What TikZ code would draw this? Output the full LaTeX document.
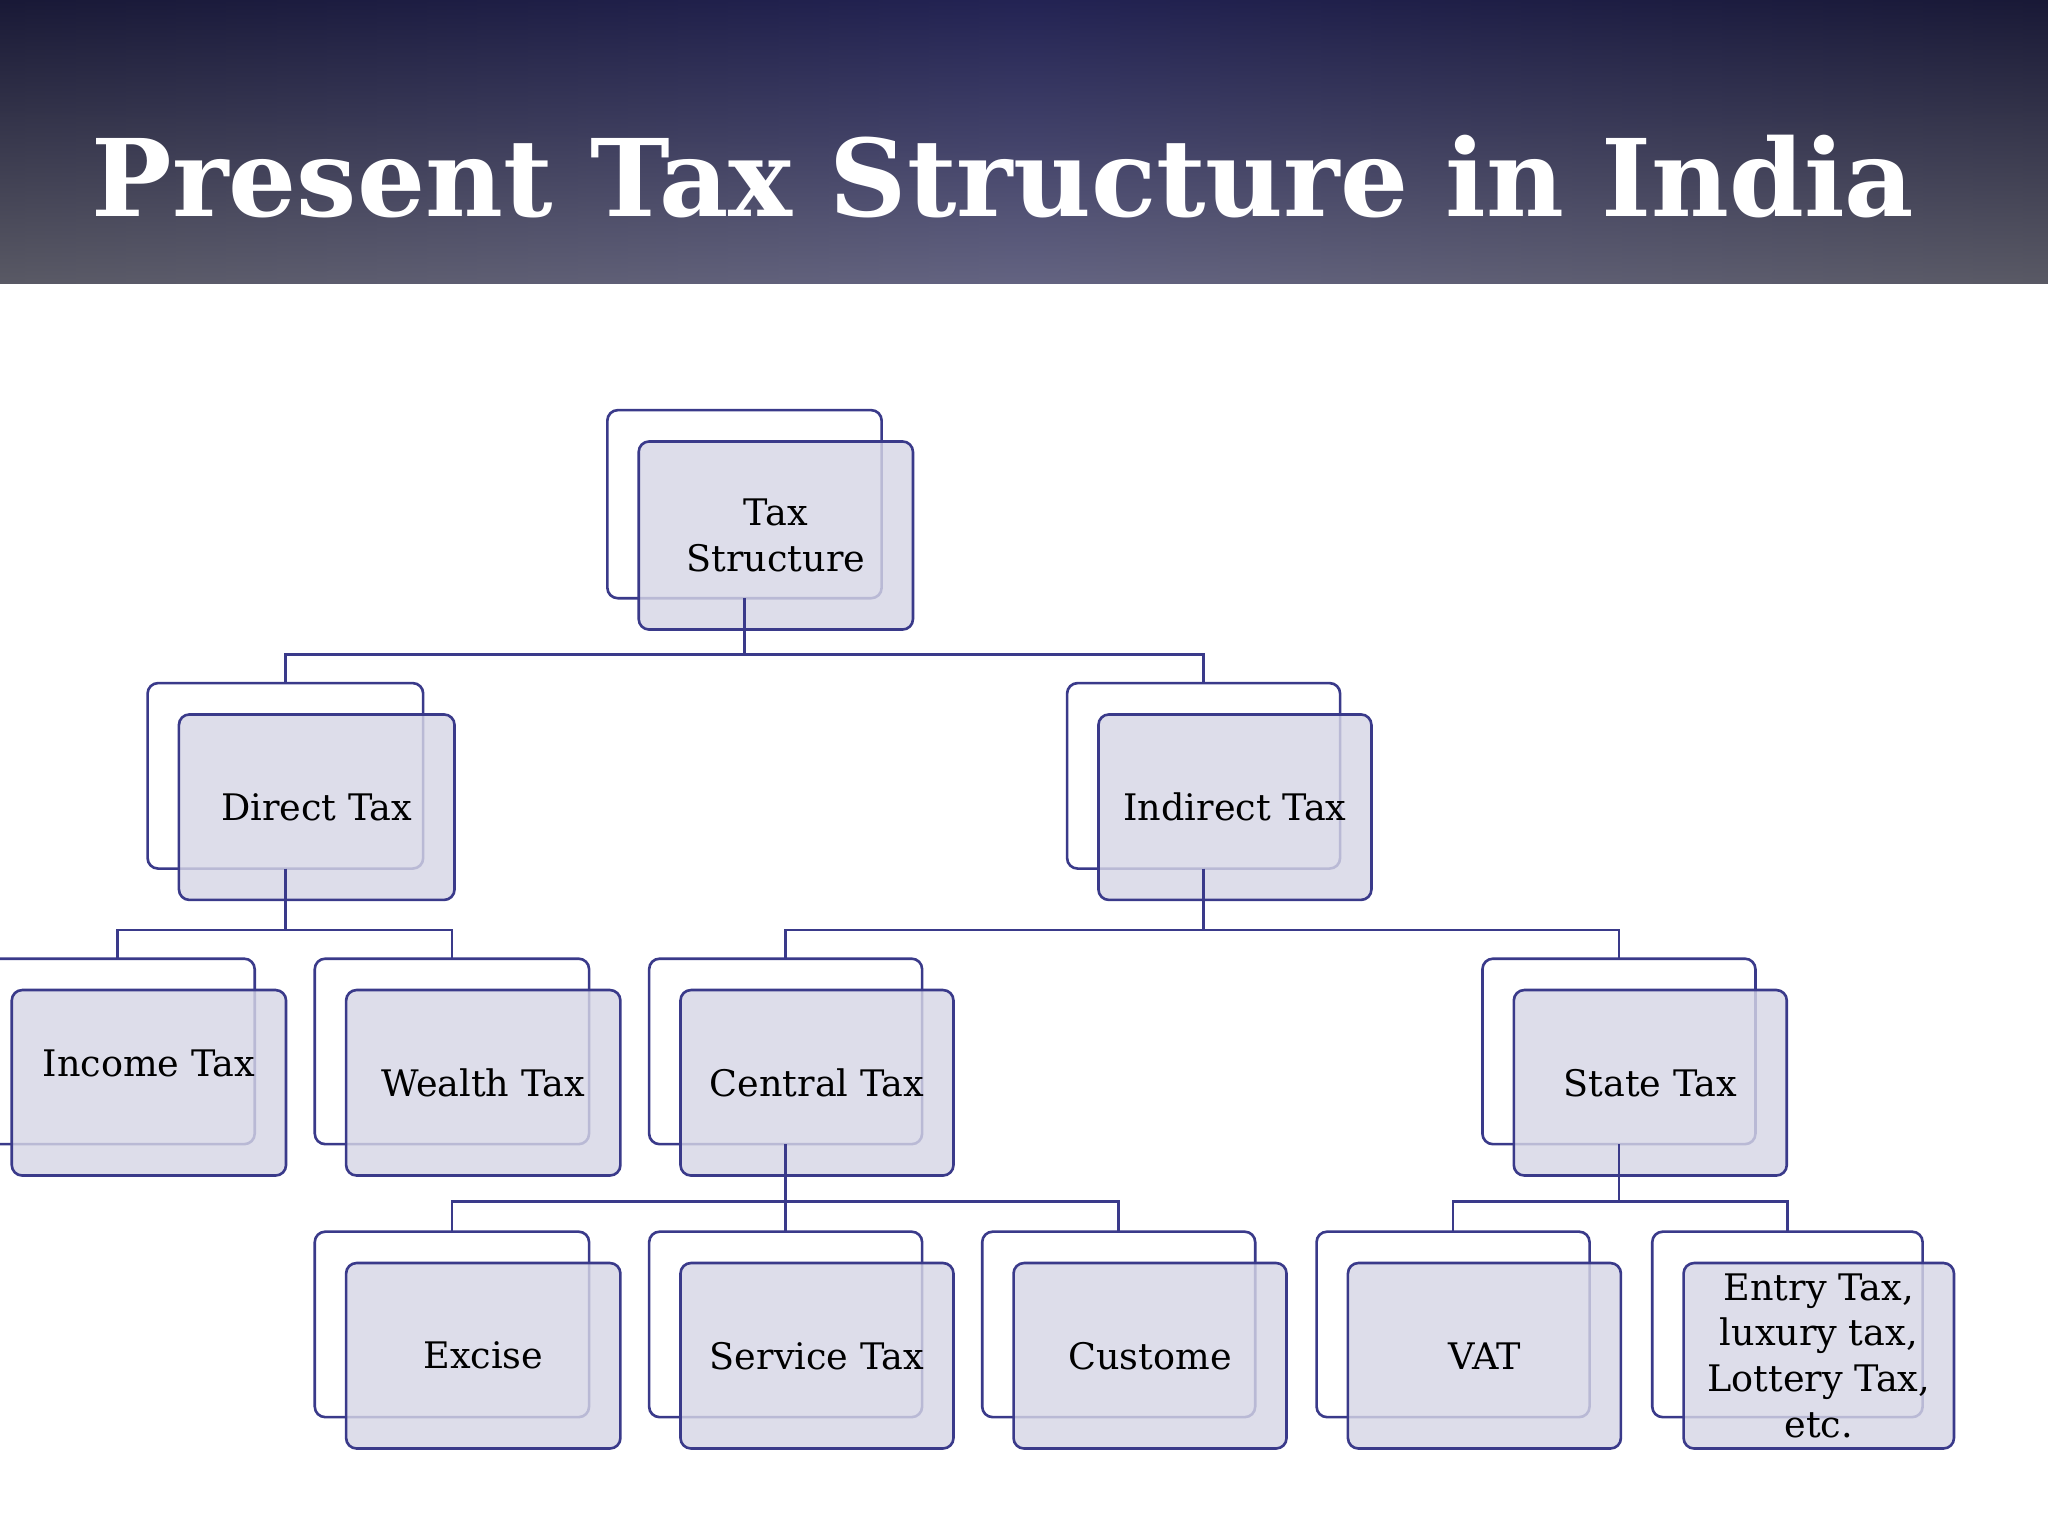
\documentclass[tikz,border=0pt]{standalone}
\usepackage{fontspec}
\setmainfont{DejaVu Serif}
\definecolor{edge}{HTML}{3A3A8A}
\definecolor{boxfill}{HTML}{D6D6E6}
\begin{document}
\begin{tikzpicture}[x=0.5pt,y=-0.5pt,
  backbox/.style={draw=edge,line width=1pt,rounded corners=4pt,fill=white},
  frontbox/.style={draw=edge,line width=1pt,rounded corners=4pt,fill=boxfill,fill opacity=0.82,text opacity=1,font=\fontsize{14}{17.5}\selectfont,align=center},
  conn/.style={draw=edge,line width=1pt}]
\useasboundingbox (0,0) rectangle (1568,1176);
\fill[white] (0,0) rectangle (1568,1176);
\shade[left color=black!85!blue!60!gray, right color=black!85!blue!60!gray, middle color=gray!70!blue!80!black] (0,0) rectangle (1568,217);
\shade[top color=black!80!blue!70!black, bottom color=white!0!gray, opacity=0.5] (0,0) rectangle (1568,217);
\node[text=white,font=\fontsize{41}{46}\bfseries\selectfont,anchor=center] (title) at (768,135) {Present Tax Structure in India};
\newcommand\tbox[6]{%
  \draw[backbox] (#2-23,#3-23) rectangle (#4-23,#5-23);
  \node[frontbox,minimum width=#4*0.5pt-#2*0.5pt,minimum height=#5*0.5pt-#3*0.5pt,anchor=north west] (#1) at (#2,#3) {#6};
  \coordinate (#1t) at ({(#2+#4)/2-23},#3-23);
  \coordinate (#1b) at ({(#2+#4)/2-23},#5-23);}
\tbox{ts}{488}{337}{698}{481}{Tax\\Structure}
\tbox{dt}{136}{546}{347}{688}{Direct Tax}
\tbox{it}{840}{546}{1049}{688}{Indirect Tax}
\tbox{inc}{8}{757}{218}{899}{\raisebox{15pt}{Income Tax}}
\tbox{wt}{264}{757}{474}{899}{Wealth Tax}
\tbox{ct}{520}{757}{729}{899}{Central Tax}
\tbox{st}{1158}{757}{1367}{899}{State Tax}
\tbox{ex}{264}{966}{474}{1108}{Excise}
\tbox{sv}{520}{966}{729}{1108}{Service Tax}
\tbox{cu}{775}{966}{984}{1108}{Custome}
\tbox{va}{1031}{966}{1240}{1108}{VAT}
\tbox{en}{1288}{966}{1495}{1108}{\fontsize{14}{18}\selectfont Entry Tax,\\luxury tax,\\Lottery Tax,\\etc.}
\draw[conn] (tsb) -- ++(0,43) -| (dtt);
\draw[conn] (tsb) ++(0,43) -| (itt);
\draw[conn] (dtb) -- ++(0,47) -| (inct);
\draw[conn] (dtb) ++(0,47) -| (wtt);
\draw[conn] (itb) -- ++(0,47) -| (ctt);
\draw[conn] (itb) ++(0,47) -| (stt);
\draw[conn] (ctb) -- ++(0,44) -| (ext);
\draw[conn] (ctb) -- (svt);
\draw[conn] (ctb) ++(0,44) -| (cut);
\draw[conn] (stb) -- ++(0,44) -| (vat);
\draw[conn] (stb) ++(0,44) -| (ent);
\end{tikzpicture}
\end{document}
